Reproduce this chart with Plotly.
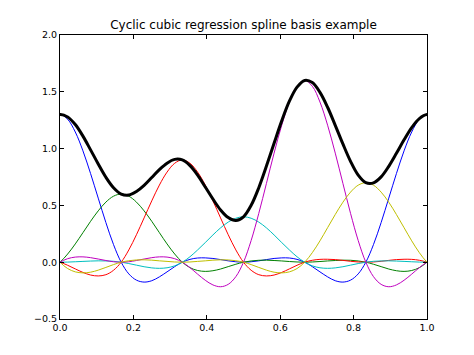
import plotly.graph_objects as go

# x samples every 1/48, extended one step past each end (the basis is cyclic)
x = [i / 48 for i in range(-1, 50)]

blue = [1.258,
        1.3, 1.258, 1.146, 0.980, 0.78, 0.564, 0.349, 0.155, 0, -0.103, -0.158, -0.175,
        -0.163, -0.129, -0.085, -0.039, 0, 0.025, 0.037, 0.038, 0.033, 0.023, 0.012, 0.004,
        0, 0.004, 0.012, 0.023, 0.033, 0.038, 0.037, 0.025, 0, -0.039, -0.085, -0.129,
        -0.163, -0.175, -0.158, -0.103, 0, 0.155, 0.349, 0.564, 0.78, 0.980, 1.146, 1.258,
        1.3, 1.258]
green = [-0.048,
         0, 0.072, 0.161, 0.260, 0.36, 0.452, 0.529, 0.581, 0.6, 0.581, 0.529, 0.452,
         0.36, 0.260, 0.161, 0.072, 0, -0.048, -0.073, -0.081, -0.075, -0.060, -0.039, -0.018,
         0, 0.011, 0.017, 0.018, 0.015, 0.011, 0.006, 0.002, 0, 0.002, 0.006, 0.011,
         0.015, 0.018, 0.017, 0.011, 0, -0.018, -0.039, -0.060, -0.075, -0.081, -0.073, -0.048,
         0, 0.072]
red = [0.017,
       0, -0.027, -0.059, -0.090, -0.113, -0.121, -0.110, -0.071, 0, 0.108, 0.242, 0.390,
       0.54, 0.679, 0.793, 0.871, 0.9, 0.871, 0.793, 0.679, 0.54, 0.390, 0.242, 0.108,
       0, -0.071, -0.110, -0.121, -0.113, -0.090, -0.059, -0.027, 0, 0.017, 0.025, 0.026,
       0.023, 0.016, 0.008, 0.002, 0, 0.002, 0.008, 0.016, 0.023, 0.026, 0.025, 0.017,
       0, -0.027]
cyan = [0.001,
        0, 0.001, 0.004, 0.007, 0.01, 0.012, 0.011, 0.008, 0, -0.012, -0.026, -0.040,
        -0.05, -0.054, -0.049, -0.032, 0, 0.048, 0.108, 0.173, 0.24, 0.302, 0.353, 0.387,
        0.4, 0.387, 0.353, 0.302, 0.24, 0.173, 0.108, 0.048, 0, -0.032, -0.049, -0.054,
        -0.05, -0.040, -0.026, -0.012, 0, 0.008, 0.011, 0.012, 0.01, 0.007, 0.004, 0.001,
        0, 0.001]
magenta = [-0.048,
           0, 0.031, 0.045, 0.047, 0.04, 0.028, 0.015, 0.004, 0, 0.004, 0.015, 0.028,
           0.04, 0.047, 0.045, 0.031, 0, -0.048, -0.105, -0.159, -0.2, -0.216, -0.195, -0.127,
           0, 0.191, 0.43, 0.694, 0.96, 1.206, 1.41, 1.549, 1.6, 1.549, 1.41, 1.206,
           0.96, 0.694, 0.43, 0.191, 0, -0.127, -0.195, -0.216, -0.2, -0.159, -0.105, -0.048,
           0, 0.031]
yellow = [0.084,
          0, -0.056, -0.085, -0.094, -0.088, -0.070, -0.046, -0.021, 0, 0.013, 0.020, 0.021,
          0.018, 0.012, 0.007, 0.002, 0, 0.002, 0.007, 0.012, 0.018, 0.021, 0.020, 0.013,
          0, -0.021, -0.046, -0.070, -0.088, -0.094, -0.085, -0.056, 0, 0.084, 0.188, 0.304,
          0.42, 0.528, 0.617, 0.678, 0.7, 0.678, 0.617, 0.528, 0.42, 0.304, 0.188, 0.084,
          0, -0.056]
total = [1.264,
         1.3, 1.279, 1.212, 1.110, 0.989, 0.865, 0.748, 0.656, 0.6, 0.591, 0.622, 0.676,
         0.745, 0.815, 0.872, 0.905, 0.9, 0.850, 0.767, 0.662, 0.556, 0.460, 0.393, 0.367,
         0.4, 0.501, 0.656, 0.846, 1.047, 1.244, 1.417, 1.541, 1.6, 1.581, 1.495, 1.364,
         1.205, 1.041, 0.888, 0.767, 0.7, 0.698, 0.751, 0.844, 0.958, 1.077, 1.185, 1.264,
         1.3, 1.279]

xticks = [0.0, 0.2, 0.4, 0.6, 0.8, 1.0]
yticks = [-0.5, 0.0, 0.5, 1.0, 1.5, 2.0]

series = [
    (blue, "rgb(0,0,255)"),
    (green, "rgb(0,128,0)"),
    (red, "rgb(255,0,0)"),
    (cyan, "rgb(0,191,191)"),
    (magenta, "rgb(191,0,191)"),
    (yellow, "rgb(191,191,0)"),
]

fig = go.Figure()
for ys, col in series:
    fig.add_trace(go.Scatter(x=x, y=ys, mode="lines",
                             line=dict(color=col, width=1, shape="spline", smoothing=1.0),
                             showlegend=False, hoverinfo="skip"))
fig.add_trace(go.Scatter(x=x, y=total, mode="lines",
                         line=dict(color="black", width=3, shape="spline", smoothing=1.0),
                         showlegend=False, hoverinfo="skip"))

axis_common = dict(showline=True, linecolor="black", linewidth=1, mirror="ticks",
                   ticks="inside", ticklen=4, tickcolor="black", tickwidth=1,
                   showgrid=False, zeroline=False, automargin=False,
                   tickfont=dict(family="DejaVu Sans", size=9.5, color="black"))

# the page body has an 8px margin; shrink the figure to compensate
OFF = 8
fig.update_layout(
    width=474 - OFF, height=355 - OFF,
    margin=dict(l=60 - OFF, r=47, t=35 - OFF, b=36),
    paper_bgcolor="white", plot_bgcolor="white",
    title=dict(text="Cyclic cubic regression spline basis example",
               x=0.5, xanchor="center", xref="paper",
               y=1 - (25 - OFF) / (355 - OFF), yanchor="middle",
               font=dict(family="DejaVu Sans", size=12, color="black")),
    xaxis=dict(range=[0, 1], tickvals=xticks, ticktext=[f"{v:.1f}" for v in xticks],
               **axis_common),
    yaxis=dict(range=[-0.5, 2.0], tickvals=yticks,
               ticktext=[("\u22120.5" if v < 0 else f"{v:.1f}") for v in yticks],
               **axis_common),
)

fig.write_html("out.html")
